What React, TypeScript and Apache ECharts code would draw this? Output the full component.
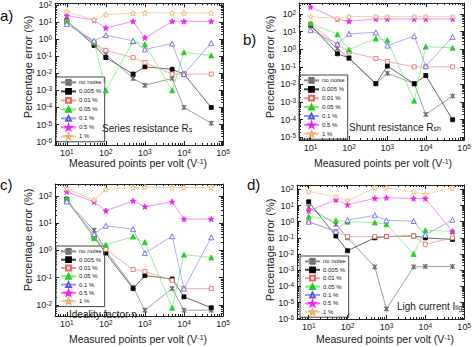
import React, { useEffect, useRef } from 'react';
import * as echarts from 'echarts';

// ---------------- data ----------------
const POINTS = [10, 50, 100, 500, 1000, 5000, 10000, 50000];
const NAMES = ['no noise', '0.005 %', '0.01 %', '0.05 %', '0.1 %', '0.5 %', '1 %'];
const X_TICK_EXPONENTS = [1, 2, 3, 4, 5];

// a) Series resistance
const A_NO_NOISE = [10, 0.6, 0.13, 0.005, 0.002, 0.005, 0.0001, 0.000012];
const A_0005 = [12, 0.43, 0.083, 0.009, 0.024, 0.017, 0.009, 0.0001];
const A_001 = [11, 0.6, 0.22, 0.083, 0.043, 0.009, 0.009, 0.009];
const A_005 = [11, 0.7, 0.001, 0.75, 0.5, 0.001, 0.17, 0.11];
const A_01 = [7.6, 0.8, 1.7, 0.8, 0.25, 0.55, 0.009, 0.6];
const A_05 = [24, 13, 4.5, 11, 1.2, 11, 11, 11];
const A_1 = [41, 14, 27, 33, 35, 34, 34, 34];

// b) Shunt resistance
const B_NO_NOISE = [20, 1.1, 0.3, 0.011, 0.043, 0.011, 0.0002, 0.0022];
const B_0005 = [24, 0.55, 0.32, 0.011, 0.11, 0.011, 0.032, 0.0001];
const B_001 = [27, 1.8, 0.7, 0.3, 0.2, 0.1, 0.1, 0.1];
const B_005 = [30, 7, 0.95, 4, 3.2, 0.0012, 1.4, 1.2];
const B_01 = [12, 2, 7.5, 9, 1.6, 5.5, 0.11, 5];
const B_05 = [250, 50, 38, 52, 52, 52, 52, 52];
const B_1 = [70, 55, 72, 72, 72, 72, 72, 72];

// c) Ideality factor
const C_NO_NOISE = [62, 5.5, 1, 0.045, 0.0065, 0.04, 0.0065, 0.0065];
const C_0005 = [75, 3, 0.8, 0.04, 0.12, 0.09, 0.02, 0.008];
const C_001 = [70, 3, 1.1, 0.2, 0.17, 0.08, 0.04, 0.04];
const C_005 = [80, 2.8, 1.6, 3.2, 2, 0.008, 0.7, 0.55];
const C_01 = [62, 4, 8, 6, 0.8, 3.3, 0.04, 3];
const C_05 = [140, 60, 28, 65, 40, 60, 14, 14];
const C_1 = [180, 70, 170, 200, 210, 200, 200, 200];

// d) Light current
const D_NO_NOISE = [8, 0.7, 0.1, 0.0016, 0.000004, 0.0016, 0.0017, 0.0017];
const D_0005 = [17, 0.13, 0.016, 0.1, 0.12, 0.13, 0.1, 0.08];
const D_001 = [1, 0.25, 0.12, 0.12, 0.12, 0.13, 0.04, 0.1];
const D_005 = [2.2, 1.2, 1, 0.9, 0.7, 0.01, 0.3, 0.25];
const D_01 = [1, 0.25, 1.25, 2.5, 1.2, 1.1, 0.15, 1.3];
const D_05 = [4.8, 22, 11, 28, 30, 27, 27, 0.25];
const D_1 = [75, 35, 20, 120, 125, 70, 50, 120];

const PANEL_DATA = [
  [A_NO_NOISE, A_0005, A_001, A_005, A_01, A_05, A_1],
  [B_NO_NOISE, B_0005, B_001, B_005, B_01, B_05, B_1],
  [C_NO_NOISE, C_0005, C_001, C_005, C_01, C_05, C_1],
  [D_NO_NOISE, D_0005, D_001, D_005, D_01, D_05, D_1],
];
const PANEL_LETTERS = ['a)', 'b)', 'c)', 'd)'];

// ---------------- layout / style ----------------
const FONT = "'Liberation Sans', Arial, sans-serif";
const X_RANGE = [Math.log10(5), 5];
const LAYOUT = [
  { grid: { left: 55, top: 2, width: 168, height: 143 }, y: [-6.2, 2.1], yTitle: [28, 67], xTitle: [138, 163], legend: [56, 77], gap: 2.2, letter: [0, 8], note: [102, 128] },
  { grid: { left: 299, top: 3, width: 167, height: 137 }, y: [-5.15, 2.62], yTitle: [270, 67], xTitle: [383, 163], legend: [299, 75], gap: 2.1, letter: [243, 32], note: [349, 127] },
  { grid: { left: 55, top: 184, width: 168, height: 132 }, y: [-2.4, 2.43], yTitle: [28, 240], xTitle: [138, 339], legend: [56, 246], gap: 1.5, letter: [0, 177], note: [69, 314] },
  { grid: { left: 297, top: 185, width: 169, height: 134 }, y: [-6.02, 2.27], yTitle: [270, 250], xTitle: [385, 339], legend: [300, 256], gap: 1.6, letter: [247, 177], note: [397, 306] },
];
const NOTES = [
  'Series resistance R{sub|s}',
  'Shunt resistance R{sub|sh}',
  'Ideality factor n',
  'Ligh current I{sub|lig}',
];

const STAR = 'path://M10,0L12.35,6.76L19.51,6.91L13.8,11.24L15.88,18.09L10,14L4.12,18.09L6.2,11.24L0.49,6.91L7.65,6.76Z';
const ASTER = 'path://M0,1L1,0L10,9L9,10ZM9,0L10,1L1,10L0,9ZM4.4,0L5.6,0L5.6,10L4.4,10Z';
const STYLES = [
  { symbol: ASTER, size: 4.5, fill: '#707070', border: '#707070', line: '#8a8a8a' },
  { symbol: 'rect', size: 4, fill: '#000', border: '#000', line: '#444' },
  { symbol: 'rect', size: 4, fill: '#fff', border: '#e8605a', line: '#f09a95' },
  { symbol: 'triangle', size: 5, fill: '#22d022', border: '#22d022', line: '#80e880' },
  { symbol: 'triangle', size: 5, fill: '#fff', border: '#5a5ae0', line: '#9a9aee' },
  { symbol: STAR, size: 5.5, fill: '#f020f0', border: '#f020f0', line: '#f070f0' },
  { symbol: STAR, size: 5.5, fill: '#fff', border: '#f0b070', line: '#f5c898' },
];

function minorTicks(min: number, max: number) {
  const out: number[] = [];
  for (let n = Math.floor(min) - 1; n <= Math.ceil(max); n++) {
    for (let k = 2; k <= 9; k++) {
      const v = n + Math.log10(k);
      if (v > min && v < max) out.push(v);
    }
  }
  return out;
}
function majorTicks(min: number, max: number) {
  const out: number[] = [];
  for (let n = Math.ceil(min - 1e-9); n <= Math.floor(max + 1e-9); n++) out.push(n);
  return out;
}

const supRich = {
  b: { fontSize: 9, fontFamily: FONT, color: '#222', lineHeight: 10 },
  s: { fontSize: 6.5, fontFamily: FONT, color: '#222', verticalAlign: 'top', lineHeight: 6 },
};
const supFormatter = (v: number) => `{b|10}{s|${Math.round(v)}}`;

function buildOption() {
  const xAxis: any[] = [];
  const yAxis: any[] = [];
  const series: any[] = [];
  const legend: any[] = [];
  const graphic: any[] = [];
  const line = { show: true, onZero: false, lineStyle: { color: '#222', width: 1 } };

  LAYOUT.forEach((L, p) => {
    const [xmin, xmax] = X_RANGE;
    const [ymin, ymax] = L.y;
    const xMaj = X_TICK_EXPONENTS;
    const xMin = minorTicks(xmin, xmax);
    const yMaj = majorTicks(ymin, ymax);
    const yMin = minorTicks(ymin, ymax);
    const base = { type: 'value', gridIndex: p, splitLine: { show: false } };
    const tick = (vals: number[], len: number) => ({
      show: true, inside: true, length: len, customValues: vals, lineStyle: { color: '#222', width: 1 },
    });
    xAxis.push({
      ...base, min: xmin, max: xmax, position: 'bottom', axisLine: line, axisTick: tick(xMaj, 4),
      axisLabel: { show: true, customValues: xMaj, formatter: supFormatter, rich: supRich, margin: 3 },
    });
    xAxis.push({ ...base, min: xmin, max: xmax, position: 'bottom', axisLine: { show: false, onZero: false }, axisTick: tick(xMin, 2), axisLabel: { show: false } });
    xAxis.push({ ...base, min: xmin, max: xmax, position: 'top', axisLine: line, axisTick: tick(xMaj, 4), axisLabel: { show: false } });
    xAxis.push({ ...base, min: xmin, max: xmax, position: 'top', axisLine: { show: false, onZero: false }, axisTick: tick(xMin, 2), axisLabel: { show: false } });
    yAxis.push({
      ...base, min: ymin, max: ymax, position: 'left', axisLine: line, axisTick: tick(yMaj, 4),
      axisLabel: { show: true, customValues: yMaj, formatter: supFormatter, rich: supRich, margin: 3 },
    });
    yAxis.push({ ...base, min: ymin, max: ymax, position: 'left', axisLine: { show: false, onZero: false }, axisTick: tick(yMin, 2), axisLabel: { show: false } });
    yAxis.push({ ...base, min: ymin, max: ymax, position: 'right', axisLine: line, axisTick: tick(yMaj, 4), axisLabel: { show: false } });
    yAxis.push({ ...base, min: ymin, max: ymax, position: 'right', axisLine: { show: false, onZero: false }, axisTick: tick(yMin, 2), axisLabel: { show: false } });

    PANEL_DATA[p].forEach((vals, s) => {
      const st = STYLES[s];
      series.push({
        type: 'line', name: NAMES[s], xAxisIndex: p * 4, yAxisIndex: p * 4,
        data: POINTS.map((x, i) => [Math.log10(x), Math.log10(vals[i])]),
        symbol: st.symbol, symbolSize: st.size, showAllSymbol: true,
        itemStyle: { color: st.fill, borderColor: st.border, borderWidth: 0.8 },
        lineStyle: { color: st.line, width: 0.8 },
        z: 2 + s,
      });
    });

    legend.push({
      orient: 'vertical', left: L.legend[0], top: L.legend[1], data: NAMES,
      itemWidth: 15, itemHeight: 6, itemGap: L.gap, padding: [2, 3, 2, 4],
      borderColor: '#444', borderWidth: 1, backgroundColor: 'transparent', borderRadius: 0,
      textStyle: { fontSize: 6, lineHeight: 6, fontFamily: FONT, color: '#222', padding: [0, 0, 0, -2] },
      selectedMode: false,
    });

    graphic.push({
      type: 'text', x: L.letter[0], y: L.letter[1],
      style: { text: PANEL_LETTERS[p], fontSize: 15, fontFamily: FONT, fill: '#111' },
    });
    graphic.push({
      type: 'text', x: L.yTitle[0], y: L.yTitle[1], rotation: Math.PI / 2,
      style: { text: 'Percentage error (%)', fontSize: 11, fontFamily: FONT, fill: '#222', align: 'center', verticalAlign: 'middle' },
    });
    graphic.push({
      type: 'text', x: L.xTitle[0], y: L.xTitle[1],
      style: {
        text: 'Measured points per volt (V{s|-1})', fontSize: 10.5, lineHeight: 10, fontFamily: FONT, fill: '#222',
        align: 'center', verticalAlign: 'middle',
        rich: { s: { fontSize: 7, fontFamily: FONT, fill: '#222', verticalAlign: 'top', lineHeight: 6 } },
      },
    });
    graphic.push({
      type: 'text', x: L.note[0], y: L.note[1], z: 100,
      style: {
        text: NOTES[p], fontSize: 10, lineHeight: 10, fontFamily: FONT, fill: '#222', align: 'left', verticalAlign: 'middle',
        rich: { sub: { fontSize: 7, fontFamily: FONT, fill: '#222', verticalAlign: 'bottom', lineHeight: 6 } },
      },
    });
  });

  return {
    animation: false,
    backgroundColor: '#fff',
    textStyle: { fontFamily: FONT },
    grid: LAYOUT.map((L) => ({ ...L.grid, containLabel: false })),
    xAxis, yAxis, series, legend, graphic,
  };
}

export default function App() {
  const ref = useRef<HTMLDivElement>(null);
  useEffect(() => {
    if (!ref.current) return;
    const chart = echarts.init(ref.current, undefined, { renderer: 'svg' });
    chart.setOption(buildOption() as any);
    return () => chart.dispose();
  }, []);
  return <div ref={ref} style={{ position: 'absolute', left: 0, top: 0, width: 474, height: 347 }} />;
}
